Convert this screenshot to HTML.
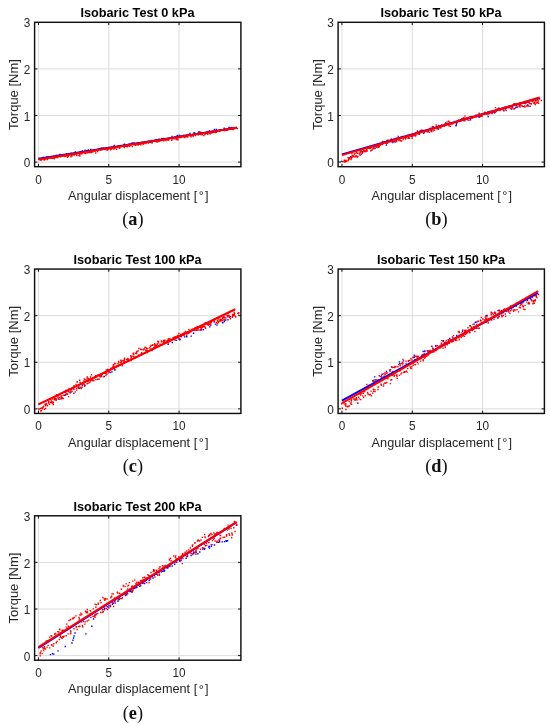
<!DOCTYPE html>
<html lang="en">
<head>
<meta charset="utf-8">
<title>Isobaric tests</title>
<style>
html,body{margin:0;padding:0;background:#fff}
svg{display:block}
text{font-family:"Liberation Sans",sans-serif;fill:#262626}
.t{font-size:12.7px;font-weight:700;text-anchor:middle;fill:#000}
.k{font-size:11.8px}
.m{text-anchor:middle}
.e{text-anchor:end}
.l{font-size:12.7px;text-anchor:middle}
.yl{font-size:13px}
.c{font-family:"Liberation Serif","DejaVu Serif",serif;font-size:18.3px;text-anchor:middle;fill:#111}
.b{font-weight:700}
</style>
</head>
<body>
<svg width="550" height="726" viewBox="0 0 550 726">
<rect width="550" height="726" fill="#fff"/>
<g>
<path d="M38.45 22.3V166.7M108.75 22.3V166.7M179.05 22.3V166.7M34.6 162.1H240.9M34.6 115.5H240.9M34.6 68.9H240.9" stroke="#dcdcdc" stroke-width="1" fill="none"/>
<path d="M42.56 157.55h1.4M45.92 157.29h1.4M46.62 157.42h1.4M49.2 156.78h1.4M55.5 155.47h1.4M58.73 155.23h1.4M65.91 153.69h1.4M61.72 154.68h1.4M74.65 152.01h1.4M68.04 153.62h1.4M81.62 152.4h1.4M81.69 150.97h1.4M87.61 149.92h1.4M84.29 150.13h1.4M89.96 149.37h1.4M91 150.66h1.4M94.98 150.08h1.4M100.45 148.3h1.4M101.05 148.35h1.4M113.49 145.55h1.4M107.27 148.05h1.4M110.81 147.37h1.4M123.55 144.42h1.4M123.83 144.19h1.4M128.29 144.13h1.4M131.36 143.07h1.4M133.15 143.5h1.4M136.87 143.26h1.4M135.7 143.5h1.4M141.7 142.52h1.4M151.33 140.44h1.4M148.22 141.5h1.4M155.16 139.72h1.4M158.25 139.11h1.4M157.95 139.91h1.4M160.95 138.78h1.4M171.35 136.43h1.4M176.54 135.76h1.4M177.08 135.54h1.4M179.12 135.57h1.4M189.27 133.56h1.4M193.36 132.7h1.4M193.92 133.23h1.4M200.36 132.82h1.4M198.32 131.81h1.4M198.16 132.99h1.4M208.88 131.07h1.4M207.45 131.51h1.4M215.67 129.54h1.4M213.74 129.34h1.4M223.51 128.23h1.4M228.28 127.47h1.4M223.71 128.76h1.4M228.56 127.43h1.4M228.9 127.74h1.4" stroke="#0000ff" stroke-width="1.4" fill="none"/>
<path d="M38.4 158.95h1.4M38.57 158.56h1.4M40.7 159.08h1.4M41.48 158.84h1.4M41.05 159.29h1.4M42.06 158.88h1.4M43.84 158.48h1.4M44.14 158.87h1.4M46.11 157.51h1.4M46.34 158.34h1.4M48.79 156.6h1.4M47.77 157.32h1.4M48.23 157.34h1.4M50.93 156.97h1.4M50.05 158.36h1.4M51.43 158.08h1.4M52.78 157.16h1.4M52.7 157.12h1.4M54.86 157.38h1.4M55.46 156.65h1.4M55.96 157.04h1.4M57.49 155.39h1.4M57.1 156.99h1.4M59.7 156.59h1.4M60.16 156.6h1.4M59.33 154.46h1.4M61.02 155.45h1.4M62.08 156h1.4M61.7 156.41h1.4M64.03 156.57h1.4M65.72 155.83h1.4M65.81 154.33h1.4M66.63 156.04h1.4M68.49 154.6h1.4M68.06 154.86h1.4M69.54 154.75h1.4M70.25 153.21h1.4M70.11 154.18h1.4M71.25 154.25h1.4M72.32 154.2h1.4M72.37 153.92h1.4M74.89 153.47h1.4M73.99 153.75h1.4M76.89 152.65h1.4M75.57 154.19h1.4M78.64 152.95h1.4M79.33 152.56h1.4M79.07 153.3h1.4M79.78 151.68h1.4M80.07 153.66h1.4M81 152.83h1.4M82.71 151.95h1.4M83.85 152.11h1.4M84.25 152.07h1.4M84.97 153.55h1.4M86.71 152.81h1.4M87.09 152.71h1.4M86.68 152.7h1.4M89.87 151.23h1.4M90.45 152.51h1.4M90.19 151.79h1.4M91.72 150.91h1.4M91 150.64h1.4M92.14 150.59h1.4M93.49 150.58h1.4M93.83 150.59h1.4M94.55 150.59h1.4M97.54 149.92h1.4M97.68 149.66h1.4M97.81 149.48h1.4M98.72 148.76h1.4M101.31 148.23h1.4M100.72 149.49h1.4M100.58 149.5h1.4M102.1 149.39h1.4M102.46 147.99h1.4M102.94 148.05h1.4M104.14 148.93h1.4M106.09 147.82h1.4M108.15 147.96h1.4M108.69 148.31h1.4M108.18 148.82h1.4M108.5 148.27h1.4M111.04 148.68h1.4M110.66 147.91h1.4M113.33 146.26h1.4M113.82 146.66h1.4M114.37 148.3h1.4M113.82 148.28h1.4M114.14 147.64h1.4M114.99 147.38h1.4M117.68 146.3h1.4M119.27 147.91h1.4M120.22 146.2h1.4M120.99 146.52h1.4M119.84 146.14h1.4M120.62 145.97h1.4M123.42 144.86h1.4M124.11 146.47h1.4M124.86 145.68h1.4M123.75 146.61h1.4M126.53 146.81h1.4M127.3 146.02h1.4M128.27 145.21h1.4M127.87 144.61h1.4M128.91 146.56h1.4M129.78 144.2h1.4M130.01 145h1.4M130.75 143.87h1.4M133.48 142.84h1.4M132.52 143.17h1.4M134.79 145.4h1.4M134.8 144.71h1.4M134.74 144.32h1.4M138.23 144.03h1.4M138.99 144.16h1.4M138.47 142.76h1.4M138.72 144.14h1.4M139.69 143.56h1.4M141.47 142.55h1.4M141.43 143.17h1.4M144.08 142.41h1.4M143.41 143.48h1.4M145.79 142.23h1.4M145.32 141.63h1.4M146.48 142.37h1.4M147.32 141.34h1.4M147.24 141.77h1.4M147.61 141.78h1.4M149.76 141.97h1.4M151.32 142.02h1.4M151.61 141.69h1.4M152.57 141.19h1.4M153.44 141.35h1.4M153.44 141.3h1.4M155.02 139.7h1.4M156.03 140.25h1.4M156.56 141.93h1.4M157.89 141.47h1.4M158.97 140.46h1.4M159.17 140.94h1.4M161.37 140.12h1.4M161.57 138.66h1.4M161.22 140.64h1.4M162.9 138.51h1.4M162.6 139.76h1.4M163.42 139.72h1.4M164.6 139.21h1.4M165 139.74h1.4M168.13 139.84h1.4M166.95 139.36h1.4M167.78 139.82h1.4M170.67 138.07h1.4M171.72 138.14h1.4M171.06 140.25h1.4M173.11 138.22h1.4M172.13 138.85h1.4M173.48 137.67h1.4M173.94 138.15h1.4M174.32 136.79h1.4M176.65 137.2h1.4M176.9 137.18h1.4M178.56 137.22h1.4M180.42 136.77h1.4M180.73 136.35h1.4M180.16 136.72h1.4M180.39 136.59h1.4M181.5 137.02h1.4M183.17 135.31h1.4M183.58 136.61h1.4M184.14 135.43h1.4M186.51 135.97h1.4M185.69 134.94h1.4M187.48 134.97h1.4M187.36 134.54h1.4M190.23 135.22h1.4M189.12 135.16h1.4M192.12 134.97h1.4M191.85 135.35h1.4M194.02 133.9h1.4M193.06 133.94h1.4M193.84 133.75h1.4M194.35 134.14h1.4M195.46 134.01h1.4M196.62 134.41h1.4M197.42 132.96h1.4M198.86 133.2h1.4M198.4 133.11h1.4M199.9 132.29h1.4M201.58 132.86h1.4M201.45 134.76h1.4M202.08 133.32h1.4M204.9 133.5h1.4M205.8 132.47h1.4M205.45 133.66h1.4M207.93 132.56h1.4M207.03 131.96h1.4M208.7 132.95h1.4M208.92 132.44h1.4M209.03 131.99h1.4M209.72 131.98h1.4M210.84 132.32h1.4M211.48 131.08h1.4M213.95 132.3h1.4M213.74 131.55h1.4M215.09 130.61h1.4M215.12 131.48h1.4M218.2 130.53h1.4M219.09 130.94h1.4M219.93 130.6h1.4M218.98 130.58h1.4M220.04 130.32h1.4M221.16 130.59h1.4M222.1 130.11h1.4M221.58 130.13h1.4M223.53 129.48h1.4M223.4 129.14h1.4M224.79 129.31h1.4M226.62 130.31h1.4M227.68 129.56h1.4M228.7 128.56h1.4M228.49 129.33h1.4M231.16 127.98h1.4M231.08 127.53h1.4M230.29 127.69h1.4M232.76 129.26h1.4M233.91 128.19h1.4M234.19 128.41h1.4M235 127.38h1.4M236.75 128.55h1.4M39.11 159.18h1.4M40.25 160.24h1.4M39.84 159.62h1.4M41.04 159.54h1.4M41.2 159.17h1.4M43.46 159.92h1.4M44.31 159.65h1.4M43.46 160.13h1.4M46.47 159.04h1.4M46.6 159.66h1.4M47.79 157.82h1.4M47.53 158.01h1.4M47.9 158.55h1.4M49.1 157.31h1.4M51.4 157h1.4M51.28 157.93h1.4M52.39 158.33h1.4M53.61 158.87h1.4M54.53 157.52h1.4M54.32 157.41h1.4M56.49 157.5h1.4M55.36 156.67h1.4M56.34 157.21h1.4M58.9 155.86h1.4M59.7 156.71h1.4M59.98 155.91h1.4M60.83 155.33h1.4M60.95 155.28h1.4M63.91 155.66h1.4M63.35 156.13h1.4M65.18 155.16h1.4M64.53 155.96h1.4M65.22 155.45h1.4M67.08 155.65h1.4M66.73 157.32h1.4M67.56 156.2h1.4M70.27 156.68h1.4M70.8 155.49h1.4M70.37 154.58h1.4M70.66 155.39h1.4M71.45 155.75h1.4M73.1 154.83h1.4M73.51 154.97h1.4M76.26 153.77h1.4M74.83 154.29h1.4M76 155.48h1.4M79.04 154.39h1.4M78.16 155.45h1.4M79.23 156.04h1.4M80.66 152.51h1.4M80.89 153.68h1.4M80.89 153.26h1.4M81.89 152.95h1.4M85 153.16h1.4M83.98 153.11h1.4M84.67 152.06h1.4M86.01 151.06h1.4M88.05 152.27h1.4M88.41 150.83h1.4M89.04 152.6h1.4M90.35 150.97h1.4M90.46 151.31h1.4M92.13 151.81h1.4M91.07 152.27h1.4M94.3 150.84h1.4M93.56 150.72h1.4M94.29 151.22h1.4M95.03 152.97h1.4M96.96 151.55h1.4M97.09 150.16h1.4M97.33 150.36h1.4M100.18 149.8h1.4M99.92 149.94h1.4M102.12 148.43h1.4M101.48 149.41h1.4M101.36 149.59h1.4M102.89 149.3h1.4M103.51 149.34h1.4M105.2 148.52h1.4M105.62 149.9h1.4M106.47 150.04h1.4M107.12 149.46h1.4M107.21 149.52h1.4M108.24 147.33h1.4M110.11 149.19h1.4M110.18 149.77h1.4M111.17 148.77h1.4M112.5 147.67h1.4M114.72 146.97h1.4M113.04 149.08h1.4M113.92 148.64h1.4M115.96 149.26h1.4M117.12 147.24h1.4M118.89 147.17h1.4M119.46 146.02h1.4M118.74 148.41h1.4M119.21 147.01h1.4M121.62 146.08h1.4M123.17 146.54h1.4M123.54 147.45h1.4M123.55 146.91h1.4M125.28 146.37h1.4M124.64 145.49h1.4M125.68 146.4h1.4M126.05 146.15h1.4M128.44 144.74h1.4M127.7 144.83h1.4M129.82 144.86h1.4M130.14 145.11h1.4M129.97 144.46h1.4M131.61 146.58h1.4M133.38 144.82h1.4M134.88 145.11h1.4M134 144.82h1.4M136.78 144.5h1.4M135.09 145.2h1.4M137.23 144.73h1.4M137.42 144.97h1.4M139.38 143.66h1.4M138.51 144.2h1.4M140.18 144.71h1.4M140.65 143.44h1.4M143.12 143.28h1.4M142.37 144.22h1.4M145.29 143.61h1.4M144.13 142.14h1.4M144.95 142.71h1.4M147.78 143.03h1.4M147.39 142.54h1.4M148.03 142.03h1.4M149.55 141.77h1.4M149.66 142.23h1.4M150.02 141.8h1.4M150.43 142.07h1.4M151.3 143.09h1.4M154.38 140.84h1.4M154.82 139.67h1.4M154.57 141.02h1.4M155.03 140.22h1.4M155.46 141.44h1.4M158.03 141.38h1.4M157.97 140.55h1.4M158.38 140.18h1.4M159.72 140.42h1.4M162.21 138.9h1.4M161.03 138.83h1.4M162.28 139.24h1.4M163.33 140.9h1.4M163.14 140.9h1.4M166.35 139.62h1.4M165.23 140.67h1.4M165.63 138.79h1.4M167.51 138.68h1.4M167.36 140.26h1.4M168.19 138.04h1.4M169.64 138.11h1.4M171.82 137.93h1.4M171.38 138.9h1.4M174.08 138.72h1.4M174.28 138.71h1.4M174.04 138.41h1.4M176.08 137.94h1.4M177.36 138.83h1.4M175.79 139.49h1.4M177.21 139.83h1.4M180.01 137.58h1.4M179.32 137.51h1.4M180.46 136.56h1.4M182.48 136.27h1.4M182.82 135.61h1.4M183.89 136.26h1.4M183.4 137.6h1.4M184.22 137.63h1.4M184.42 135.97h1.4M185.59 136.27h1.4M186.07 136.83h1.4M186.84 136.93h1.4M190.25 136.07h1.4M190.84 135.17h1.4M189.52 135.75h1.4M190.4 136.73h1.4M192.2 135.64h1.4M192.47 136.23h1.4M194.51 134.77h1.4M195.56 134.22h1.4M194.71 135.65h1.4M197.51 134.95h1.4M197.09 133.87h1.4M198.92 133.97h1.4M198.44 133.83h1.4M199.03 133.49h1.4M200.35 134.48h1.4M201.39 133.22h1.4M201.79 133.72h1.4M204.2 134.63h1.4M203.13 135.64h1.4M204.99 133.3h1.4M207.03 134.19h1.4M205.51 133.65h1.4M206.76 132.84h1.4M209.74 133.89h1.4M208.95 133.82h1.4M211.14 133.14h1.4M211.75 132.3h1.4M213.05 131.35h1.4M213.02 131.33h1.4M212.77 132.18h1.4M213.58 131.72h1.4M214.57 132.56h1.4M215.28 132.47h1.4M215.61 132.32h1.4M216.93 130.71h1.4M218.12 130.73h1.4M219.61 129.73h1.4M219.14 130.23h1.4M221.31 130.13h1.4M222.4 130.08h1.4M223.4 130.07h1.4M223.47 130.44h1.4M225.79 129.47h1.4M224.9 130.62h1.4M226.03 130.36h1.4M228.09 129.11h1.4M227.13 129.69h1.4M229.42 129.4h1.4M230.74 129.16h1.4M230.29 129h1.4M232.38 129.53h1.4M232.09 129.1h1.4M233.18 128.77h1.4" stroke="#ff0000" stroke-width="1.4" fill="none"/>
<path d="M38.45 158.7L236.98 127.52" stroke="#0000ff" stroke-width="1.8" fill="none"/>
<path d="M38.45 159.54L236.98 127.62" stroke="#ff0000" stroke-width="2" fill="none"/>
<path d="M38.45 166.7v-2.8M38.45 22.3v2.8M108.75 166.7v-2.8M108.75 22.3v2.8M179.05 166.7v-2.8M179.05 22.3v2.8M34.6 162.1h2.8M240.9 162.1h-2.8M34.6 115.5h2.8M240.9 115.5h-2.8M34.6 68.9h2.8M240.9 68.9h-2.8" stroke="#111" stroke-width="1" fill="none"/>
<rect x="34.6" y="22.3" width="206.3" height="144.4" fill="none" stroke="#101010" stroke-width="1.45"/>
<text x="137.45" y="17.2" class="t">Isobaric Test 0 kPa</text>
<text transform="translate(38.45 183.6) scale(1 1.15)" class="k m">0</text>
<text transform="translate(108.75 183.6) scale(1 1.15)" class="k m">5</text>
<text transform="translate(179.05 183.6) scale(1 1.15)" class="k m">10</text>
<text transform="translate(30.4 167.2) scale(1 1.15)" class="k e">0</text>
<text transform="translate(30.4 120.6) scale(1 1.15)" class="k e">1</text>
<text transform="translate(30.4 74) scale(1 1.15)" class="k e">2</text>
<text transform="translate(30.4 27.4) scale(1 1.15)" class="k e">3</text>
<text x="138.35" y="199.9" class="l">Angular displacement [<tspan dx="1.6" dy="0.2">°</tspan><tspan dx="1.2" dy="-0.2">]</tspan></text>
<text transform="translate(18.4 94.5) rotate(-90)" class="l yl">Torque [Nm]</text>
<text x="132.9" y="225" class="c">(<tspan class="b">a</tspan>)</text>
</g>
<g>
<path d="M341.95 22.3V166.7M412.25 22.3V166.7M482.55 22.3V166.7M338.1 162.1H544.4M338.1 115.5H544.4M338.1 68.9H544.4" stroke="#dcdcdc" stroke-width="1" fill="none"/>
<path d="M340.62 161.35h1.4M349.87 156.73h1.4M361.79 151.67h1.4M355.56 156.18h1.4M360.68 154.13h1.4M375.8 146.95h1.4M374.36 148.28h1.4M385.72 144.97h1.4M392.14 142.54h1.4M394.44 141.94h1.4M392.43 141.62h1.4M398.85 138.47h1.4M411.1 136.4h1.4M414.44 135.43h1.4M414.67 135.79h1.4M426.35 131.62h1.4M422.89 133.34h1.4M431.01 131.61h1.4M427.11 131.33h1.4M437.61 128.94h1.4M437.9 128.85h1.4M455.64 123.32h1.4M455.27 125.78h1.4M462.85 120.67h1.4M455.68 124.68h1.4M469.95 119.89h1.4M469.09 118.5h1.4M478.11 115.7h1.4M478.44 117.25h1.4M487.47 116.48h1.4M488.71 113.67h1.4M493.84 112.73h1.4M503.17 110.77h1.4M513.64 108.89h1.4M510.89 108.94h1.4M516.79 107.17h1.4M515.39 107.26h1.4M522.76 106.59h1.4M526.83 104.9h1.4M529.27 106.24h1.4" stroke="#0000ff" stroke-width="1.4" fill="none"/>
<path d="M343.59 160.36h1.4M343.75 160.21h1.4M344.91 160.44h1.4M343.92 162.17h1.4M345.46 160.57h1.4M347.75 160.03h1.4M348.64 158.93h1.4M347.35 157.67h1.4M349.02 157.69h1.4M351 157.02h1.4M351.26 153.7h1.4M351.52 155.67h1.4M351.88 157.16h1.4M354.31 153.38h1.4M353.82 154.27h1.4M355.76 152.56h1.4M356.69 153.32h1.4M356.58 153.31h1.4M357 153.32h1.4M359.15 153.24h1.4M360.79 151.02h1.4M359.54 151.69h1.4M360.11 150.14h1.4M360.92 151.09h1.4M362.76 149.81h1.4M363.26 151.06h1.4M364.07 150.62h1.4M366.1 149.66h1.4M367.83 148.33h1.4M366.78 148.4h1.4M368.74 147.45h1.4M370.25 146.97h1.4M369.43 148.51h1.4M369.6 148.54h1.4M371.4 148.09h1.4M373.09 148.68h1.4M374.19 145.56h1.4M373.72 145.63h1.4M375.37 145.38h1.4M375.88 145.08h1.4M377.78 144.06h1.4M376.52 146.99h1.4M377.75 145.7h1.4M378.77 145.3h1.4M380.86 144.4h1.4M382.21 142.76h1.4M381.65 142.29h1.4M381.82 141.49h1.4M384.53 142.82h1.4M383.43 141.74h1.4M385.57 142.92h1.4M387.2 142.15h1.4M386.3 141.52h1.4M387.52 140.21h1.4M389.82 139.85h1.4M390.53 139.05h1.4M390.21 141.2h1.4M391.87 141.45h1.4M392.66 139.1h1.4M392.81 140.82h1.4M393.54 141.41h1.4M396.24 138.09h1.4M395.32 138.36h1.4M397.59 136.36h1.4M397.31 138.17h1.4M399.7 137.83h1.4M400.64 136.67h1.4M400.74 137.57h1.4M402.57 138.23h1.4M402.03 136.44h1.4M403.97 137.62h1.4M403.67 137h1.4M404.18 137.78h1.4M404.78 136.88h1.4M407.58 136.02h1.4M406.32 135.52h1.4M409.36 134.99h1.4M408.61 135.15h1.4M408.63 135.1h1.4M411.3 135.67h1.4M412.29 135.76h1.4M411.3 135.84h1.4M414.25 134.47h1.4M415.12 133.28h1.4M416.12 133.22h1.4M417.11 132.27h1.4M416.01 133.11h1.4M416.62 130.97h1.4M419.42 130.95h1.4M419.8 130.84h1.4M419.7 132.77h1.4M420.05 130.5h1.4M421.2 129.95h1.4M422.39 130.64h1.4M423.08 130.4h1.4M424.02 130.36h1.4M424.99 130.81h1.4M427.63 131.24h1.4M427.54 129.67h1.4M426.78 130.35h1.4M429.7 128.19h1.4M429.39 128.84h1.4M429.89 129.68h1.4M432.55 126.46h1.4M431.5 126.68h1.4M431.89 127.05h1.4M435.46 125.07h1.4M433.63 128.09h1.4M436.69 126.65h1.4M435.86 127.71h1.4M438.52 126.24h1.4M437.8 125.52h1.4M438.54 126.13h1.4M440.75 125.92h1.4M441.44 125.34h1.4M440.77 125.07h1.4M443.59 126.03h1.4M444.02 125.48h1.4M444.24 123.89h1.4M446.47 121.9h1.4M444.94 122.7h1.4M446.31 123.66h1.4M447.99 121.22h1.4M448.52 122.17h1.4M449.61 123.16h1.4M450.67 122.66h1.4M451.86 123.99h1.4M451.9 123h1.4M454.13 121.35h1.4M454.5 121.54h1.4M454.75 122.11h1.4M456.54 121.63h1.4M456.54 121.42h1.4M458.58 120.51h1.4M457.83 120.03h1.4M459.81 119.64h1.4M459.16 120.66h1.4M460.27 120.63h1.4M460.9 118.9h1.4M462.23 118.21h1.4M464.2 116.08h1.4M463.33 117.99h1.4M464.98 118.5h1.4M467.51 117.48h1.4M466.85 119.58h1.4M467.06 118.76h1.4M467.95 118.38h1.4M469.32 116.62h1.4M471.3 116.5h1.4M471.9 118.06h1.4M472.13 117.02h1.4M472.1 117.59h1.4M474.63 116.83h1.4M475.95 117.01h1.4M476.38 115.3h1.4M476.34 115.26h1.4M478.47 113.29h1.4M479.05 114.96h1.4M479.65 116.5h1.4M480.41 115.69h1.4M481.24 114.24h1.4M480.63 115.87h1.4M483.2 113.16h1.4M483.84 113.33h1.4M484.22 112.26h1.4M485.55 113.95h1.4M487.27 111.93h1.4M486.06 113.65h1.4M487.5 114.05h1.4M488.65 112.24h1.4M489.66 111.9h1.4M489.47 111.43h1.4M491.32 113.56h1.4M491.03 113.1h1.4M493.6 111.7h1.4M493.9 112.08h1.4M494.79 112.19h1.4M495.35 110.04h1.4M496.97 109.97h1.4M497.03 109.78h1.4M499.54 109.61h1.4M498.66 108.73h1.4M499.65 108.65h1.4M499.44 109.93h1.4M502.21 108.08h1.4M502.11 108.41h1.4M504.06 107.19h1.4M505.47 108.02h1.4M505.96 107.63h1.4M505.69 107.39h1.4M507.62 106.41h1.4M508.57 107.29h1.4M508.75 107.62h1.4M508.69 105.99h1.4M510.7 106.15h1.4M512.06 105.3h1.4M511.48 106.81h1.4M513.04 104.37h1.4M513.37 103.78h1.4M515.61 104.49h1.4M514.82 103.96h1.4M516.17 104.35h1.4M517.85 104.09h1.4M517.5 104.24h1.4M518.91 103.15h1.4M519.64 104.58h1.4M520.32 104.99h1.4M522.75 103.3h1.4M523.34 103.36h1.4M524.42 102.79h1.4M525.08 103.21h1.4M525.4 102.6h1.4M527.15 102.23h1.4M527.19 102.23h1.4M526.64 101.9h1.4M527.75 101.85h1.4M528.39 102.82h1.4M531.34 101.41h1.4M532.17 101.77h1.4M532.25 101.02h1.4M533.91 102.22h1.4M534.48 100.69h1.4M535.08 101.12h1.4M535.5 100.66h1.4M537.34 101.19h1.4M537.3 100.43h1.4M537.01 99.51h1.4M538.86 98.55h1.4M538.76 99.07h1.4M540.59 100.44h1.4M343.37 161.58h1.4M341.89 161.67h1.4M344.26 161.98h1.4M345.39 160.35h1.4M345.57 161.32h1.4M347.9 158.43h1.4M347.87 158.61h1.4M347.07 160.84h1.4M350.39 159.51h1.4M349.6 157.81h1.4M350.87 158h1.4M352.85 155.58h1.4M352.96 156.36h1.4M353.03 156.26h1.4M354.26 157h1.4M355.25 156.04h1.4M355.86 156.39h1.4M356.68 157.24h1.4M357.17 156.18h1.4M359.49 155.21h1.4M358.82 153.93h1.4M360.32 152.06h1.4M361.95 152.64h1.4M361.55 153.29h1.4M363.1 151.56h1.4M364.08 151.55h1.4M365.18 151.48h1.4M366.47 151h1.4M365.73 151.17h1.4M365.78 150.19h1.4M368.28 147.5h1.4M369.27 148.21h1.4M369.99 150.85h1.4M370.86 150.2h1.4M371.66 149.84h1.4M372.74 147.96h1.4M372.99 146.42h1.4M374.67 146.32h1.4M373.54 147.03h1.4M376.41 145.11h1.4M376.16 147h1.4M378.25 145.59h1.4M377.56 147.25h1.4M378.53 146.74h1.4M379.74 145.06h1.4M381.17 144.3h1.4M381.82 144.44h1.4M381.23 143.31h1.4M383.55 142.17h1.4M385.34 143.04h1.4M384.74 143.31h1.4M386.15 140.45h1.4M386.69 143.33h1.4M387.37 141.7h1.4M387.68 141.55h1.4M388.36 142.11h1.4M390.67 141.79h1.4M389.99 141.63h1.4M392.88 141.3h1.4M391.72 140.05h1.4M392.88 140.75h1.4M395.07 140.49h1.4M396.04 140.15h1.4M396.73 139.25h1.4M395.86 141.55h1.4M398.2 140.48h1.4M399.88 140.72h1.4M398.88 138.54h1.4M399.08 139.77h1.4M399.94 140.58h1.4M400.97 140.99h1.4M402.45 139.37h1.4M404.81 138.94h1.4M404.64 137.58h1.4M405.73 137.38h1.4M406.22 137.85h1.4M408.05 137.63h1.4M407.72 138.2h1.4M408.72 138.22h1.4M409.48 136.4h1.4M411.43 138.21h1.4M411.69 136.5h1.4M413.65 134.99h1.4M413.77 134.66h1.4M414.35 135.59h1.4M416.22 133.78h1.4M415.25 135.66h1.4M416.43 133.72h1.4M417.98 134.16h1.4M418.61 132.14h1.4M418.59 134.22h1.4M418.68 133.7h1.4M421.13 131.6h1.4M422.61 131.59h1.4M423.51 131.82h1.4M424.3 130.62h1.4M423.69 132.43h1.4M426.12 130.53h1.4M427.14 131.91h1.4M426.45 130.03h1.4M428.53 129.36h1.4M427.75 130.2h1.4M428.7 132.39h1.4M430.57 130.65h1.4M430.33 130.93h1.4M431.31 129.7h1.4M432.73 130.83h1.4M432.57 128.9h1.4M433.82 130.25h1.4M435.62 126.91h1.4M436.31 128.9h1.4M437.04 128.54h1.4M437.12 128.28h1.4M437.94 127.93h1.4M439.84 127.97h1.4M440.25 127.66h1.4M440.13 127.15h1.4M443.58 126.3h1.4M443.44 125.71h1.4M444.72 124.78h1.4M444.36 124.37h1.4M445.69 124.72h1.4M447.83 124.51h1.4M448.35 125.78h1.4M447.55 124.97h1.4M449.81 126.33h1.4M450.64 123.37h1.4M451.63 122.74h1.4M450.35 123.93h1.4M451.65 123.42h1.4M452.09 123.06h1.4M454.33 121.98h1.4M456.25 122.88h1.4M457 121h1.4M456.45 121.44h1.4M456.55 121.27h1.4M458.62 121.59h1.4M459.68 119.89h1.4M459.85 121.32h1.4M460.86 119.61h1.4M463.2 117.8h1.4M461.95 119.31h1.4M463.16 119.81h1.4M465.51 117.97h1.4M464.03 120.73h1.4M466.9 119.79h1.4M468.3 120.39h1.4M466.61 118.71h1.4M469.88 116.95h1.4M470.02 118.42h1.4M471.09 116.82h1.4M470.16 118.37h1.4M471.07 117.41h1.4M472.9 117.04h1.4M472.83 116.81h1.4M475.14 115.16h1.4M474.67 116.49h1.4M475.09 116.17h1.4M478.4 116.11h1.4M479.07 115.42h1.4M478.78 116.14h1.4M478.67 114.26h1.4M480.98 115.68h1.4M481.35 116.25h1.4M482.27 113.61h1.4M483.54 113.78h1.4M482.83 114h1.4M485.48 114.32h1.4M486.76 113.89h1.4M485.96 114.4h1.4M486.83 113.44h1.4M489.24 113.18h1.4M489.14 112.49h1.4M489.52 112.32h1.4M492.17 112.23h1.4M490.51 111.42h1.4M491.79 112.81h1.4M493.37 112.07h1.4M493.47 111.05h1.4M494.76 107.67h1.4M497.15 110.04h1.4M495.74 111.4h1.4M496.49 108.93h1.4M499.17 110.59h1.4M498.08 107.98h1.4M501.09 109.58h1.4M499.75 109.67h1.4M502.87 110.06h1.4M502.64 109.84h1.4M504.79 108.97h1.4M503.53 108.11h1.4M504.5 108.7h1.4M505.4 110.46h1.4M505.93 108.12h1.4M507.92 107.6h1.4M508.17 107.86h1.4M510.21 106.57h1.4M511.35 108.01h1.4M510.16 108.43h1.4M512.84 108.92h1.4M511.84 107.19h1.4M514.76 107.94h1.4M515.76 105.45h1.4M515.6 104.39h1.4M516.41 105.91h1.4M518.34 106.2h1.4M519.08 105.52h1.4M518.67 105.61h1.4M520.14 104.99h1.4M519.38 106.95h1.4M521.63 106h1.4M521.41 106.19h1.4M524.29 107.01h1.4M523.66 105.95h1.4M525.69 105.94h1.4M524.66 103.59h1.4M526.7 106.01h1.4M527.6 105.98h1.4M527.11 105.14h1.4M530.55 103.86h1.4M529.04 103.51h1.4M530.3 103.6h1.4M530.73 103.93h1.4M533.23 103.22h1.4M533.81 102.94h1.4M534.6 104.44h1.4M534.16 103.64h1.4M537.11 102.65h1.4M535.92 103.03h1.4M537.79 103.19h1.4" stroke="#ff0000" stroke-width="1.4" fill="none"/>
<path d="M341.95 154.27L539.63 97.79" stroke="#0000ff" stroke-width="1.8" fill="none"/>
<path d="M341.95 155.11L539.63 97.56" stroke="#ff0000" stroke-width="2" fill="none"/>
<path d="M341.95 166.7v-2.8M341.95 22.3v2.8M412.25 166.7v-2.8M412.25 22.3v2.8M482.55 166.7v-2.8M482.55 22.3v2.8M338.1 162.1h2.8M544.4 162.1h-2.8M338.1 115.5h2.8M544.4 115.5h-2.8M338.1 68.9h2.8M544.4 68.9h-2.8" stroke="#111" stroke-width="1" fill="none"/>
<rect x="338.1" y="22.3" width="206.3" height="144.4" fill="none" stroke="#101010" stroke-width="1.45"/>
<text x="440.95" y="17.2" class="t">Isobaric Test 50 kPa</text>
<text transform="translate(341.95 183.6) scale(1 1.15)" class="k m">0</text>
<text transform="translate(412.25 183.6) scale(1 1.15)" class="k m">5</text>
<text transform="translate(482.55 183.6) scale(1 1.15)" class="k m">10</text>
<text transform="translate(333.9 167.2) scale(1 1.15)" class="k e">0</text>
<text transform="translate(333.9 120.6) scale(1 1.15)" class="k e">1</text>
<text transform="translate(333.9 74) scale(1 1.15)" class="k e">2</text>
<text transform="translate(333.9 27.4) scale(1 1.15)" class="k e">3</text>
<text x="441.85" y="199.9" class="l">Angular displacement [<tspan dx="1.6" dy="0.2">°</tspan><tspan dx="1.2" dy="-0.2">]</tspan></text>
<text transform="translate(321.9 94.5) rotate(-90)" class="l yl">Torque [Nm]</text>
<text x="436.4" y="225" class="c">(<tspan class="b">b</tspan>)</text>
</g>
<g>
<path d="M38.45 269.05V413.45M108.75 269.05V413.45M179.05 269.05V413.45M34.6 408.85H240.9M34.6 362.25H240.9M34.6 315.65H240.9" stroke="#dcdcdc" stroke-width="1" fill="none"/>
<path d="M50.95 402.16h1.4M45.88 404.33h1.4M58.29 399.21h1.4M63.86 395.38h1.4M70.1 391.09h1.4M64.69 394.73h1.4M78.6 388.34h1.4M69.43 392.72h1.4M84.04 386.05h1.4M79.46 387.57h1.4M83.75 384.7h1.4M91.65 380.5h1.4M103.67 376.36h1.4M109.43 372.59h1.4M111.19 372h1.4M114.14 369.69h1.4M167.63 344.25h1.4M171.62 342.43h1.4M178.41 339.3h1.4M175.6 340.41h1.4M179.36 339.25h1.4M179.06 339.73h1.4M185.77 335.93h1.4M184.02 336.9h1.4M186.17 336.92h1.4M190.49 336.12h1.4M192.89 333.27h1.4M194.27 330.53h1.4M200.73 329.75h1.4M199.59 329.9h1.4M200.44 329.19h1.4M202.67 329.8h1.4M209.1 326.87h1.4M210.02 324.97h1.4M214.72 324.09h1.4M216.3 325.13h1.4M222.15 322.43h1.4M223.74 321.48h1.4M221.85 322.81h1.4M225.06 319.98h1.4M227.24 319.79h1.4M229.86 316.79h1.4" stroke="#0000ff" stroke-width="1.4" fill="none"/>
<path d="M39.23 408.91h1.4M40.02 408.4h1.4M41.33 407.78h1.4M41.52 408.68h1.4M42.45 407.22h1.4M42.89 406.16h1.4M44.39 404.2h1.4M44.92 404.67h1.4M45.74 404.3h1.4M48.13 402.64h1.4M47.96 401.21h1.4M48.26 401.19h1.4M50.59 400.94h1.4M49.71 399.35h1.4M51.44 399.05h1.4M51.25 401.44h1.4M54.11 398.32h1.4M53.2 398.93h1.4M55.93 394.6h1.4M55.15 398.19h1.4M57.57 395.86h1.4M58.3 394.82h1.4M58.92 397.57h1.4M60.47 395.59h1.4M60.62 397.29h1.4M62.42 395.21h1.4M61.42 397.57h1.4M64.49 391.26h1.4M64.57 392.2h1.4M65.22 390.5h1.4M65.89 391.74h1.4M67.86 389.16h1.4M67.6 391.5h1.4M68.72 391.95h1.4M69.16 389.46h1.4M70.35 389.77h1.4M71.06 388.8h1.4M73.32 385.78h1.4M73.23 387.57h1.4M73.38 386.92h1.4M75.43 384.42h1.4M76.35 381.75h1.4M76.51 382.06h1.4M78.93 380.25h1.4M77.98 385.3h1.4M79.53 382.41h1.4M79.34 382.36h1.4M81.75 383.85h1.4M83.26 380.99h1.4M83.49 378.86h1.4M84.33 379.53h1.4M85.73 380.09h1.4M86.37 378.43h1.4M86.57 376.96h1.4M87.99 378.41h1.4M87.66 379.36h1.4M89.91 376.93h1.4M90.85 374.74h1.4M91.5 378.67h1.4M92.28 380.19h1.4M92.9 380.41h1.4M94.35 376.75h1.4M94.64 376.88h1.4M97.47 374.58h1.4M95.86 376.83h1.4M99.04 375.7h1.4M100.23 376.6h1.4M100.84 375.19h1.4M100.01 374.17h1.4M101.56 374.33h1.4M101.51 373.78h1.4M103.72 373.11h1.4M105.68 371.8h1.4M105.55 369.91h1.4M106.9 369.46h1.4M106.41 370.26h1.4M107.31 369.86h1.4M109.78 369.81h1.4M108.81 370.18h1.4M110.59 368.93h1.4M111.93 367.43h1.4M112.51 364.92h1.4M113.06 365.7h1.4M113.13 364.74h1.4M114 363.35h1.4M114.88 363.61h1.4M117.89 361.47h1.4M118.19 362.39h1.4M117.35 363.72h1.4M120.46 362.62h1.4M120.16 360.27h1.4M120.53 361.29h1.4M123.57 359.22h1.4M123.54 360.54h1.4M123.88 358.74h1.4M123.83 358.2h1.4M127.36 358.39h1.4M126.76 358.92h1.4M126.52 359.07h1.4M130 355.75h1.4M130.82 356.49h1.4M131.48 356.11h1.4M132.81 353.17h1.4M132.37 353.6h1.4M132.97 354.49h1.4M134.83 353.24h1.4M136.19 351.55h1.4M135.96 352.26h1.4M135.97 353.57h1.4M137.41 351.04h1.4M138.12 348.47h1.4M139.82 349.13h1.4M140.22 349.45h1.4M141.17 349.61h1.4M143.31 349.19h1.4M142.84 349.74h1.4M143.55 348.73h1.4M144.32 347.23h1.4M145.53 347.85h1.4M145.9 348.54h1.4M147.14 348.61h1.4M149.69 346.21h1.4M150.6 345.46h1.4M151.42 345.38h1.4M152.08 344.81h1.4M151.99 344.93h1.4M154.56 344.94h1.4M154.17 344.95h1.4M154 343.81h1.4M156.58 343.98h1.4M157.14 341.18h1.4M157.41 343.08h1.4M157.86 341.71h1.4M160.69 340.88h1.4M160.64 341.01h1.4M160.75 341.88h1.4M162.79 342.67h1.4M163.43 342.04h1.4M162.94 340.52h1.4M164.11 340.11h1.4M166.43 340.85h1.4M165.73 341.71h1.4M167.77 340.49h1.4M168.09 338.8h1.4M168.79 338.72h1.4M169.41 339.19h1.4M171.12 339.56h1.4M173.5 337.55h1.4M174.27 339.98h1.4M173.06 338.55h1.4M175.55 336.85h1.4M176.42 337.42h1.4M177.31 335.5h1.4M178.33 335.77h1.4M178.23 333.54h1.4M179.94 334.42h1.4M181.68 333.77h1.4M182.07 334.28h1.4M180.96 335.19h1.4M182.22 334.06h1.4M183.76 332.57h1.4M183.68 334.09h1.4M184.99 331.55h1.4M187.82 333.31h1.4M187.03 333.45h1.4M188.46 332.39h1.4M188.1 333.03h1.4M191.43 330.47h1.4M190.04 331.99h1.4M193.3 330.08h1.4M192.44 330.27h1.4M192.96 329.53h1.4M196.2 329.06h1.4M196.63 326.6h1.4M196.5 326.75h1.4M198.44 326.45h1.4M197.44 328.41h1.4M200.83 329.01h1.4M201 325.52h1.4M202.04 324.7h1.4M202.12 326.99h1.4M201.87 326.55h1.4M204.11 326.28h1.4M206.22 322.78h1.4M204.56 322.81h1.4M207.38 322.67h1.4M207.84 324.03h1.4M209.97 323.74h1.4M208.79 324.46h1.4M209.15 324.02h1.4M210.47 321.63h1.4M211.69 320.43h1.4M213.64 319.33h1.4M213.29 320.77h1.4M214.8 319.12h1.4M217.14 320.15h1.4M217.9 318.85h1.4M216.65 320.95h1.4M219.51 319.72h1.4M219.64 319.13h1.4M220.89 319.36h1.4M221.6 320.59h1.4M223.19 317.78h1.4M222.01 318.46h1.4M223.19 316.65h1.4M223.67 317.44h1.4M226.44 315.7h1.4M226.61 315.42h1.4M227.58 315.14h1.4M228.18 315.43h1.4M228.06 315.41h1.4M231.82 314.45h1.4M231.93 315.05h1.4M233.6 314.63h1.4M233.08 314.54h1.4M233.83 313.38h1.4M233.5 312.39h1.4M237.05 313.39h1.4M238.01 313.85h1.4M238.09 312.63h1.4M37.87 409.05h1.4M38.44 409.07h1.4M40.11 411h1.4M40.68 410.59h1.4M43.7 409.19h1.4M42.42 407.58h1.4M44.96 408.44h1.4M44.67 405.9h1.4M45.54 403.52h1.4M46.58 405.8h1.4M48.8 404.52h1.4M48 402.98h1.4M50 402.54h1.4M51.45 403.09h1.4M52.7 404.62h1.4M52.31 403.49h1.4M52.64 402.23h1.4M54.34 399.34h1.4M54.04 399.77h1.4M55.74 399.3h1.4M55.48 400.2h1.4M57.52 398.43h1.4M57.16 397.31h1.4M60.45 395.69h1.4M60.16 399.02h1.4M60.65 398.59h1.4M61.94 398.33h1.4M62.6 398.52h1.4M64.89 394.97h1.4M66 393.94h1.4M65.58 393.7h1.4M66.82 394.31h1.4M66.34 393.72h1.4M67.92 396.61h1.4M70.49 392.08h1.4M71.26 388.52h1.4M71.45 391.34h1.4M72.9 389.01h1.4M73.21 389.52h1.4M73.21 393.21h1.4M74.63 391.9h1.4M76.01 390.04h1.4M77.58 387.46h1.4M76.02 388.25h1.4M78.12 386.07h1.4M77.98 388.29h1.4M80.29 387.97h1.4M80.71 388.55h1.4M81.55 387.01h1.4M81.64 385.26h1.4M83.77 382.41h1.4M83.42 383.95h1.4M84.27 385.2h1.4M86.41 383.76h1.4M87.37 381.69h1.4M87.33 383.35h1.4M89.04 382.56h1.4M90.15 380.59h1.4M89.57 381.07h1.4M91.52 379.65h1.4M93.2 380.91h1.4M94.21 376.79h1.4M95.01 375.79h1.4M94.13 378.1h1.4M95.22 379.63h1.4M98.37 379.24h1.4M96.91 379.29h1.4M99.64 375.78h1.4M99.38 376h1.4M99.25 377.14h1.4M100.96 376.18h1.4M103.02 376.86h1.4M103.67 373.4h1.4M105.28 375.48h1.4M106.17 374.2h1.4M105.05 373.61h1.4M107.65 372.9h1.4M108.31 371.26h1.4M108.33 371.81h1.4M110.26 368.27h1.4M109.17 370.92h1.4M111.67 367.93h1.4M113.14 367.02h1.4M112.05 366.93h1.4M113.35 368.49h1.4M114.07 370.05h1.4M116.08 366.25h1.4M115.64 366.07h1.4M118.5 364.72h1.4M117.63 366.42h1.4M119.96 364.64h1.4M119.98 362.6h1.4M121.33 360.83h1.4M122.65 360.77h1.4M121.61 365.49h1.4M123.45 361.83h1.4M125.86 359.65h1.4M126.55 359.49h1.4M127.49 359.68h1.4M127.99 360.9h1.4M127.39 359.53h1.4M130.26 360.65h1.4M130.48 357.56h1.4M129.84 359.13h1.4M133.08 356.69h1.4M133.1 356.49h1.4M133.34 356.86h1.4M134.54 357.72h1.4M135.11 357.28h1.4M135.01 357.7h1.4M135.95 356.89h1.4M138.1 354.83h1.4M138.1 354.99h1.4M140.49 353.99h1.4M140.9 352.68h1.4M141.11 354.71h1.4M144 353.09h1.4M144.99 350.32h1.4M145.25 350.86h1.4M146.44 350.53h1.4M146.65 352.52h1.4M146.77 351.67h1.4M149.12 347.68h1.4M150.21 349.1h1.4M150.6 349.92h1.4M151.43 350.59h1.4M151.21 349.27h1.4M152.68 348.48h1.4M152.96 347.7h1.4M153.81 345.93h1.4M154.83 346.65h1.4M155.38 346.47h1.4M155.96 345.15h1.4M156.49 344.85h1.4M158.64 345.76h1.4M159.89 344.89h1.4M159.34 344.11h1.4M160.91 344.55h1.4M162.52 341.44h1.4M164.52 343.33h1.4M164.4 340.16h1.4M163.85 341.29h1.4M167.35 339.24h1.4M166.44 340.78h1.4M168.8 341.61h1.4M167.4 344.02h1.4M168.89 340.9h1.4M169.73 339.44h1.4M170.66 339.41h1.4M172.8 338.46h1.4M172.25 337.68h1.4M174.3 336.63h1.4M174.03 339.26h1.4M176.46 335.84h1.4M175.48 337.7h1.4M178.47 335.61h1.4M177.44 337.46h1.4M178.48 339.07h1.4M180.67 336.76h1.4M182.37 334.84h1.4M182.77 333.54h1.4M183.38 335.68h1.4M183.38 333.63h1.4M183.47 334.47h1.4M186 333.11h1.4M186.06 334.91h1.4M186.73 333.33h1.4M188.21 329.57h1.4M189.4 330.92h1.4M191.51 329.1h1.4M191.65 329.85h1.4M191.41 330.14h1.4M191.77 330.24h1.4M194.45 327.75h1.4M194.36 328.13h1.4M195.59 330.38h1.4M196.82 330.09h1.4M197.56 330.03h1.4M197.47 327.29h1.4M199.66 327.44h1.4M199.41 330.12h1.4M201.63 326.42h1.4M201.11 327.45h1.4M202.7 326.27h1.4M202.12 327.19h1.4M204.36 327.55h1.4M204.93 328.22h1.4M207.62 325.37h1.4M205.93 323.69h1.4M206.65 324.67h1.4M208.9 324.14h1.4M209.95 322.92h1.4M210.3 321.1h1.4M210.58 322.39h1.4M213.68 320.68h1.4M212.4 320.69h1.4M213.53 321.93h1.4M216.54 323.45h1.4M215.61 322.63h1.4M217.81 322.65h1.4M219 321.06h1.4M217.62 321.59h1.4M220.05 321.14h1.4M220.25 320.42h1.4M221.61 320.4h1.4M222.06 317.36h1.4M223.58 320.23h1.4M223.32 319.71h1.4M224.81 318.02h1.4M225.13 317.99h1.4M227.2 315.84h1.4M227.11 316.68h1.4M228.78 317.2h1.4M228.49 315.89h1.4M229.71 318.69h1.4M231.99 316.29h1.4M231.68 317.39h1.4M233.01 315.65h1.4M234.47 315.87h1.4M235.13 316.93h1.4" stroke="#ff0000" stroke-width="1.4" fill="none"/>
<path d="M38.45 404.47L234.59 309.59" stroke="#0000ff" stroke-width="1.2" fill="none"/>
<path d="M38.45 404.47L235.29 309.27" stroke="#ff0000" stroke-width="2" fill="none"/>
<path d="M38.45 413.45v-2.8M38.45 269.05v2.8M108.75 413.45v-2.8M108.75 269.05v2.8M179.05 413.45v-2.8M179.05 269.05v2.8M34.6 408.85h2.8M240.9 408.85h-2.8M34.6 362.25h2.8M240.9 362.25h-2.8M34.6 315.65h2.8M240.9 315.65h-2.8" stroke="#111" stroke-width="1" fill="none"/>
<rect x="34.6" y="269.05" width="206.3" height="144.4" fill="none" stroke="#101010" stroke-width="1.45"/>
<text x="137.45" y="263.95" class="t">Isobaric Test 100 kPa</text>
<text transform="translate(38.45 430.35) scale(1 1.15)" class="k m">0</text>
<text transform="translate(108.75 430.35) scale(1 1.15)" class="k m">5</text>
<text transform="translate(179.05 430.35) scale(1 1.15)" class="k m">10</text>
<text transform="translate(30.4 413.95) scale(1 1.15)" class="k e">0</text>
<text transform="translate(30.4 367.35) scale(1 1.15)" class="k e">1</text>
<text transform="translate(30.4 320.75) scale(1 1.15)" class="k e">2</text>
<text transform="translate(30.4 274.15) scale(1 1.15)" class="k e">3</text>
<text x="138.35" y="446.65" class="l">Angular displacement [<tspan dx="1.6" dy="0.2">°</tspan><tspan dx="1.2" dy="-0.2">]</tspan></text>
<text transform="translate(18.4 341.25) rotate(-90)" class="l yl">Torque [Nm]</text>
<text x="132.9" y="471.75" class="c">(<tspan class="b">c</tspan>)</text>
</g>
<g>
<path d="M341.95 269.05V413.45M412.25 269.05V413.45M482.55 269.05V413.45M338.1 408.85H544.4M338.1 362.25H544.4M338.1 315.65H544.4" stroke="#dcdcdc" stroke-width="1" fill="none"/>
<path d="M372.76 380.53h1.4M374 376.92h1.4M374.43 380h1.4M381.1 377.06h1.4M385.72 371.53h1.4M381.39 374.23h1.4M389.77 369.6h1.4M390.93 366.98h1.4M398.83 363.63h1.4M398.72 361.91h1.4M402.92 360.92h1.4M401.26 363.42h1.4M413.62 355.27h1.4M412.65 357.25h1.4M413.44 357.31h1.4M424.13 351.66h1.4M424.11 350.91h1.4M422.43 351.56h1.4M430.9 346.38h1.4M434.88 345.66h1.4M432.07 348.25h1.4M442.7 340.81h1.4M442.57 341.13h1.4M448.99 338.57h1.4M452.16 337.76h1.4M456.06 335.52h1.4M461.86 331.19h1.4M461.89 330.33h1.4M469.57 325.79h1.4M464.68 330.76h1.4M474.64 322.26h1.4M475.98 322.11h1.4M473.48 324.13h1.4M486.59 315.68h1.4M479.84 320.2h1.4M485.37 315.82h1.4M493.53 312.93h1.4M499.79 313.16h1.4M495.9 314.63h1.4M498.13 310.53h1.4M501.01 310.7h1.4M513.97 305.99h1.4M515.58 305.95h1.4M511.94 307.56h1.4M522.21 302.5h1.4M526.77 300.25h1.4M529.77 298.96h1.4M529.96 298.27h1.4" stroke="#0000ff" stroke-width="1.4" fill="none"/>
<path d="M340.89 403.73h1.4M343.77 403.84h1.4M344.76 405.23h1.4M345.01 404.99h1.4M345.17 403.9h1.4M348.45 401.55h1.4M346.93 406.68h1.4M349.95 403.17h1.4M350.47 399.5h1.4M350.72 400.4h1.4M353.06 399.02h1.4M354.38 400.18h1.4M355.81 397.65h1.4M354.4 400.03h1.4M355.84 399.3h1.4M357.88 397.2h1.4M358.55 393.9h1.4M359.73 394.26h1.4M360.3 391.22h1.4M360.27 393.47h1.4M363.42 391.05h1.4M363.03 391.06h1.4M364.02 391.58h1.4M364.2 387.73h1.4M366.16 384.52h1.4M367.13 388.78h1.4M367.21 387.71h1.4M367.99 385.53h1.4M370.45 385.4h1.4M372.02 380.75h1.4M370.53 385.31h1.4M372.58 381.36h1.4M372.75 384.49h1.4M373.83 382.05h1.4M375.46 379.72h1.4M377.85 380.06h1.4M376.58 380.08h1.4M378.53 375.82h1.4M379.69 376.67h1.4M380.76 375.49h1.4M380.71 378.67h1.4M383.36 376.28h1.4M382.96 373.84h1.4M384.36 374.47h1.4M384.23 372.84h1.4M385.79 373.27h1.4M386.71 372.83h1.4M389.39 371.3h1.4M388.87 370.04h1.4M391.72 367.54h1.4M392.79 367.36h1.4M391.7 371.68h1.4M393.99 367.62h1.4M394.2 366.48h1.4M395.17 366.82h1.4M397.25 366.75h1.4M398.03 364.64h1.4M399.52 365.78h1.4M399.78 364.02h1.4M401.85 362.17h1.4M402.16 359.48h1.4M402.08 363.41h1.4M402.11 364.85h1.4M405.26 363.68h1.4M405.42 361.09h1.4M407.68 360.69h1.4M407.69 361.21h1.4M408.27 363.58h1.4M409.1 360.31h1.4M410.27 358.47h1.4M411.31 359.99h1.4M412.36 357.92h1.4M414.06 359.81h1.4M413.98 356.24h1.4M415.45 356.32h1.4M417.11 356.23h1.4M416.36 357.6h1.4M416.9 356.56h1.4M417.92 356.83h1.4M420.99 355.43h1.4M421.75 354.81h1.4M422.83 354.55h1.4M423.75 353.62h1.4M423.88 358.19h1.4M426.12 356.3h1.4M427.27 351.88h1.4M427.14 350.76h1.4M426.51 350.68h1.4M428.31 350.89h1.4M429.45 350.57h1.4M431.2 346.55h1.4M432.04 348.78h1.4M432.38 348.6h1.4M435.13 346.34h1.4M434.19 350.51h1.4M435.01 346.31h1.4M436.53 345.72h1.4M437.8 347.72h1.4M438.47 345.85h1.4M440.83 343.25h1.4M441.04 340.6h1.4M440.44 344.32h1.4M442.55 341.51h1.4M444.02 342.57h1.4M445.73 340.44h1.4M445.13 342.26h1.4M447.06 343.56h1.4M447.61 339.64h1.4M449.93 339.64h1.4M448.33 342.19h1.4M449.29 339.19h1.4M452.83 335.63h1.4M451.67 336.84h1.4M454.99 338.57h1.4M454.64 338.15h1.4M456.18 336.67h1.4M455.7 337.34h1.4M458.66 332.53h1.4M457.66 331.68h1.4M458.31 331.46h1.4M461.97 330.11h1.4M461.26 332.86h1.4M463.8 332.35h1.4M464.09 331.13h1.4M465.1 330.15h1.4M464.03 330.43h1.4M465.61 331.2h1.4M467.7 330.16h1.4M467.33 327.79h1.4M470.7 328.34h1.4M469.29 325.81h1.4M472.32 324.36h1.4M470.89 326.95h1.4M472.97 326.71h1.4M474.47 326.24h1.4M474.03 328.16h1.4M476.08 324.44h1.4M477.84 321.18h1.4M477.07 321.32h1.4M480.58 317.51h1.4M480.32 320.93h1.4M480.56 323h1.4M482.19 319h1.4M484.54 317.13h1.4M485.32 317.02h1.4M485.46 318.64h1.4M485 318.94h1.4M486.4 315.41h1.4M487.25 318.33h1.4M490.43 313h1.4M491.55 313.04h1.4M490.57 312.29h1.4M490.63 314.75h1.4M492.5 314.33h1.4M494.78 312.35h1.4M493.98 312.25h1.4M494.62 313.62h1.4M497.15 310.66h1.4M498.86 310.21h1.4M499.23 311.6h1.4M499.96 311.34h1.4M499.63 311.96h1.4M502.13 311.78h1.4M502.41 312.74h1.4M502.8 309.72h1.4M503.8 308.88h1.4M506.9 309.1h1.4M507.98 309.38h1.4M506.51 309.29h1.4M509.97 306.25h1.4M509.87 306.07h1.4M509.54 308.27h1.4M511.84 306.62h1.4M512.73 306.93h1.4M513.39 305.36h1.4M513.75 304.84h1.4M516.83 303.29h1.4M516.65 303.95h1.4M519.03 303.36h1.4M518.58 303.02h1.4M520.2 304.56h1.4M519.73 303.43h1.4M520.83 303.46h1.4M521.08 304.05h1.4M522.88 300.77h1.4M525.75 298.23h1.4M524.67 299.16h1.4M526.79 298.78h1.4M526.1 302.13h1.4M527.66 303.35h1.4M528 302.68h1.4M530.8 299.69h1.4M530.91 300.84h1.4M533.37 300.71h1.4M531.84 297.51h1.4M535.75 296.85h1.4M534.05 295.79h1.4M535.53 295.69h1.4M536.22 297.58h1.4M537.81 294.43h1.4M341.57 408.25h1.4M342.88 402.88h1.4M345.28 406.36h1.4M345.29 409.45h1.4M347.59 406.19h1.4M348.07 406.15h1.4M348.65 405.98h1.4M350.3 404.14h1.4M350.87 404.41h1.4M350.7 401.91h1.4M352.68 398.83h1.4M353.87 399.14h1.4M355.44 398.24h1.4M356.31 400h1.4M356.96 403h1.4M357.27 403.39h1.4M358.84 398.88h1.4M360.08 399.58h1.4M360 395.07h1.4M362.26 393.36h1.4M362.73 393.28h1.4M362.04 395.85h1.4M362.84 397.43h1.4M364.62 395.72h1.4M366.99 392.44h1.4M367.27 393.97h1.4M368.54 394.7h1.4M369.54 394.46h1.4M370.61 395.71h1.4M370.28 391.17h1.4M372.59 389.25h1.4M372.01 393.08h1.4M374.39 391.66h1.4M372.91 391.26h1.4M374.21 389.8h1.4M377.36 389.48h1.4M377.23 387.14h1.4M377.82 386.85h1.4M380.37 384.18h1.4M380.64 385.31h1.4M380.53 384.9h1.4M382.84 386.06h1.4M384.14 382.96h1.4M382.98 384.13h1.4M386.13 382.4h1.4M385.11 383.26h1.4M386.64 377.96h1.4M387.18 378.73h1.4M390.23 379.97h1.4M389.65 383.65h1.4M390.97 379.77h1.4M393.43 376.32h1.4M391.84 375.31h1.4M393.94 375.14h1.4M396.21 374.9h1.4M395.65 375.15h1.4M396.31 376.21h1.4M396.5 378.25h1.4M398.75 375.42h1.4M399.29 370.8h1.4M401.16 372.84h1.4M400.3 374h1.4M404.01 371.69h1.4M403.13 372.28h1.4M404.14 372.31h1.4M405.57 371.22h1.4M406.46 372.11h1.4M407.01 368.61h1.4M409.45 366.87h1.4M409.95 367.99h1.4M411.13 366.62h1.4M412.53 365.32h1.4M410.84 368.49h1.4M412.72 362.81h1.4M415.44 359.55h1.4M414.1 364.62h1.4M414.76 364.58h1.4M416.8 362.36h1.4M417.43 363.9h1.4M419.89 361.11h1.4M419.8 358.51h1.4M422.5 359.63h1.4M422.54 360.9h1.4M422.59 356.61h1.4M424.52 357.22h1.4M424.21 356.27h1.4M426.88 353.69h1.4M427.75 355.13h1.4M427.86 354.39h1.4M429.95 352.36h1.4M428.73 352.06h1.4M430.14 351.89h1.4M431.33 352.15h1.4M434.11 350.22h1.4M433.04 351.97h1.4M435.98 349.85h1.4M435.38 349.27h1.4M435.33 350.44h1.4M437.16 348.02h1.4M439.92 347.7h1.4M440.72 346.42h1.4M440.27 346.38h1.4M442.26 348.13h1.4M441.79 345.78h1.4M443.24 343.66h1.4M444.49 345.94h1.4M444.58 347.67h1.4M445.82 343.49h1.4M446.56 344.77h1.4M448.59 343.23h1.4M447.73 340.86h1.4M451.14 342.07h1.4M452.46 341.38h1.4M451.34 341.45h1.4M453.18 339.66h1.4M454.79 339.83h1.4M455.93 340.19h1.4M454.74 340.47h1.4M458.37 335.46h1.4M458.3 337.77h1.4M458.53 339.74h1.4M461.19 336.34h1.4M460.46 337.62h1.4M462.71 335.72h1.4M463.89 333.53h1.4M463.8 336.25h1.4M465.92 333.75h1.4M464.51 334.23h1.4M466.35 332.32h1.4M467.59 330.51h1.4M468.8 332.74h1.4M469.23 332.49h1.4M471.57 330.61h1.4M472.36 329.01h1.4M472.97 329.58h1.4M474.2 331.65h1.4M475.62 328.26h1.4M476.1 326.37h1.4M477.49 328.13h1.4M476.14 328.22h1.4M478.61 328.25h1.4M478.53 324.46h1.4M481.2 323.02h1.4M480.46 324.07h1.4M480.88 323.18h1.4M483.65 319.95h1.4M483.64 322.66h1.4M485.67 319.31h1.4M485.48 320.15h1.4M485.45 322.21h1.4M487.26 321.9h1.4M487.56 323.13h1.4M490.85 319.43h1.4M489.44 319.86h1.4M490.98 320.08h1.4M493.21 319.35h1.4M493.99 317.16h1.4M493.87 317.64h1.4M496.77 317.67h1.4M497.65 316.97h1.4M498.52 316.2h1.4M497.17 318.27h1.4M498.24 316.56h1.4M500.97 315.25h1.4M501.23 316.8h1.4M502.55 315.53h1.4M504.62 314.03h1.4M505.99 311.37h1.4M504.89 316.38h1.4M507.9 310.82h1.4M506.22 311.39h1.4M508.19 312.16h1.4M509.16 313.33h1.4M509.78 310.68h1.4M510.57 308.9h1.4M511.26 309.87h1.4M512.99 311.21h1.4M513.21 310.07h1.4M514.4 310.04h1.4M516.28 309.69h1.4M517.83 311.88h1.4M519.43 305.89h1.4M519.69 307.78h1.4M518.62 307.43h1.4M522.07 305.75h1.4M522.6 306.52h1.4M522.44 306.88h1.4M522.81 309.13h1.4M524.22 309.49h1.4M524.38 305.51h1.4M528 302.51h1.4M528.68 303.82h1.4M527.48 303.78h1.4M528.6 303.14h1.4M532.17 303.72h1.4M532.89 301.74h1.4M533.58 303.21h1.4M532.4 300.89h1.4M534.55 299.66h1.4M534.59 300.79h1.4" stroke="#ff0000" stroke-width="1.4" fill="none"/>
<path d="M341.95 400.65L538.09 292.91" stroke="#0000ff" stroke-width="1.8" fill="none"/>
<path d="M341.95 403.16L538.09 291.19" stroke="#ff0000" stroke-width="2" fill="none"/>
<path d="M341.95 413.45v-2.8M341.95 269.05v2.8M412.25 413.45v-2.8M412.25 269.05v2.8M482.55 413.45v-2.8M482.55 269.05v2.8M338.1 408.85h2.8M544.4 408.85h-2.8M338.1 362.25h2.8M544.4 362.25h-2.8M338.1 315.65h2.8M544.4 315.65h-2.8" stroke="#111" stroke-width="1" fill="none"/>
<rect x="338.1" y="269.05" width="206.3" height="144.4" fill="none" stroke="#101010" stroke-width="1.45"/>
<text x="440.95" y="263.95" class="t">Isobaric Test 150 kPa</text>
<text transform="translate(341.95 430.35) scale(1 1.15)" class="k m">0</text>
<text transform="translate(412.25 430.35) scale(1 1.15)" class="k m">5</text>
<text transform="translate(482.55 430.35) scale(1 1.15)" class="k m">10</text>
<text transform="translate(333.9 413.95) scale(1 1.15)" class="k e">0</text>
<text transform="translate(333.9 367.35) scale(1 1.15)" class="k e">1</text>
<text transform="translate(333.9 320.75) scale(1 1.15)" class="k e">2</text>
<text transform="translate(333.9 274.15) scale(1 1.15)" class="k e">3</text>
<text x="441.85" y="446.65" class="l">Angular displacement [<tspan dx="1.6" dy="0.2">°</tspan><tspan dx="1.2" dy="-0.2">]</tspan></text>
<text transform="translate(321.9 341.25) rotate(-90)" class="l yl">Torque [Nm]</text>
<text x="436.4" y="471.75" class="c">(<tspan class="b">d</tspan>)</text>
</g>
<g>
<path d="M38.45 515.8V660.2M108.75 515.8V660.2M179.05 515.8V660.2M34.6 655.6H240.9M34.6 609H240.9M34.6 562.4H240.9" stroke="#dcdcdc" stroke-width="1" fill="none"/>
<path d="M49.69 654.6h1.4M51.76 653.8h1.4M53.05 654.11h1.4M57.36 650.86h1.4M64.57 646.5h1.4M71.28 642.93h1.4M72.25 640.27h1.4M72.86 637.97h1.4M73.37 635.95h1.4M74.32 632.95h1.4M85.19 633.83h1.4M91.16 626.26h1.4M92.85 618.99h1.4M94.21 615.59h1.4M95.33 614.14h1.4M108.17 607.84h1.4M102.2 609.51h1.4M104.03 608.2h1.4M106.9 606.85h1.4M108.33 605.72h1.4M112.48 603.21h1.4M114.4 603.06h1.4M111.68 604.19h1.4M117.29 601.29h1.4M118.76 599.56h1.4M117.71 599.01h1.4M117.57 599.62h1.4M121.84 595.17h1.4M125.97 594.82h1.4M125.26 593.63h1.4M124.97 594.94h1.4M129.29 591.67h1.4M130.82 591.77h1.4M130.65 591.41h1.4M133.71 588.25h1.4M135.16 587.88h1.4M136.15 587.4h1.4M139.87 585.12h1.4M139.07 586.32h1.4M142.17 583.29h1.4M145.94 580.07h1.4M143.84 583.55h1.4M148.48 580.61h1.4M149.97 579.11h1.4M152.34 577.98h1.4M154.49 573.95h1.4M153.58 575.22h1.4M153.34 574.78h1.4M158.22 572.29h1.4M157.01 575.15h1.4M163.32 570.07h1.4M161.44 571.26h1.4M162.38 571.4h1.4M163.87 571.02h1.4M166.32 568.05h1.4M167.25 567.74h1.4M169.1 566.47h1.4M171.45 566.07h1.4M174.02 564.32h1.4M175.49 562.38h1.4M179.91 560.88h1.4M179.04 561.02h1.4M178.96 560.22h1.4M180.78 558.9h1.4M186.78 556.16h1.4M185.42 558.24h1.4M186.83 556.47h1.4M190.35 555.45h1.4M192.97 553.57h1.4M193.08 551.97h1.4M195.61 552.18h1.4M195.28 554.11h1.4M197.22 553.81h1.4M199.08 552.01h1.4M202.01 549.07h1.4M204.08 548.37h1.4M203.78 549.19h1.4M208.09 547.05h1.4M208.83 548.13h1.4M208.7 546.3h1.4M210.72 546.42h1.4M211.22 544.62h1.4M216.25 542.24h1.4M213.76 544.99h1.4M217.98 542.22h1.4M218.95 541.82h1.4M221.55 541.89h1.4M225.38 540.69h1.4M223.84 541.58h1.4M225.83 541.23h1.4M226.83 540.7h1.4" stroke="#0000ff" stroke-width="1.4" fill="none"/>
<path d="M39.46 653.72h1.4M40.5 650.87h1.4M39.67 652.39h1.4M42.6 648.51h1.4M41.78 647.55h1.4M45.6 640.93h1.4M46.98 641.68h1.4M46.83 641.1h1.4M47.05 640.77h1.4M48.99 637.08h1.4M50.56 635.7h1.4M50.99 635.97h1.4M53.94 634.02h1.4M55.07 633.37h1.4M54.22 634.62h1.4M57.03 631.62h1.4M58.95 629.24h1.4M59.33 629.89h1.4M58.08 631.95h1.4M61.32 630.67h1.4M61.6 630.41h1.4M62.56 630.14h1.4M65.55 627.14h1.4M66.02 624.09h1.4M67.53 626.25h1.4M68.23 620.6h1.4M69.85 619.54h1.4M69.46 619.88h1.4M72.46 618.01h1.4M71.78 618.75h1.4M72.4 618.92h1.4M73.71 617.47h1.4M75.19 615.89h1.4M78.29 617.46h1.4M78.63 618.95h1.4M80.04 613.08h1.4M79.13 614.84h1.4M80.17 615.02h1.4M81.24 614.17h1.4M84.76 611.23h1.4M85.48 612.54h1.4M86.63 609.47h1.4M86.89 612.78h1.4M86.47 611.37h1.4M89.5 610.66h1.4M89.7 613.74h1.4M90.08 611.12h1.4M92.57 608.86h1.4M95.18 607.21h1.4M94.39 604.14h1.4M97.56 604.2h1.4M95.51 604.8h1.4M99.62 600.43h1.4M97.51 603.2h1.4M102.19 597.43h1.4M100.37 602.81h1.4M103.38 598.87h1.4M104.72 598.51h1.4M104.08 600.21h1.4M104.38 599.55h1.4M106.36 598.99h1.4M110.06 597.42h1.4M110.07 597.87h1.4M111 596.25h1.4M110.19 597.24h1.4M111.34 593.92h1.4M112.75 593.87h1.4M113.78 597.92h1.4M117.01 592.86h1.4M116.64 592.28h1.4M117.15 592.94h1.4M119.02 593.24h1.4M120.67 589.23h1.4M122.84 585.56h1.4M122.57 586.05h1.4M125.49 583.9h1.4M124.43 586.61h1.4M127.85 585.36h1.4M126.89 588.98h1.4M127.05 586.11h1.4M128.73 582.65h1.4M131.69 585.91h1.4M131.08 586.56h1.4M132.08 581.15h1.4M134.09 580.12h1.4M136.21 582.8h1.4M135.21 583.63h1.4M136.16 582.27h1.4M140.75 580.39h1.4M139.71 580.75h1.4M142.39 579.74h1.4M141.57 580.85h1.4M142.2 577.82h1.4M143.83 577.24h1.4M145.45 578h1.4M147.99 575.41h1.4M147.14 574.81h1.4M148.87 576.04h1.4M150.33 572.43h1.4M152.91 569.61h1.4M153.93 570.21h1.4M152.88 570.2h1.4M153.58 570.99h1.4M155.97 570.31h1.4M155.86 571.11h1.4M158.32 568.52h1.4M159.31 567.14h1.4M159.28 566.61h1.4M161.69 565.74h1.4M164.53 565.36h1.4M163.07 566.23h1.4M166.1 567.16h1.4M168.03 564.89h1.4M168.79 559.89h1.4M168.71 559.32h1.4M168.81 560.04h1.4M169.85 558.29h1.4M170.52 560.81h1.4M173.03 555.95h1.4M175.15 555.89h1.4M174.78 557.22h1.4M175.51 558.65h1.4M176.33 559.12h1.4M180.62 556.04h1.4M178.21 556.76h1.4M181.68 554.24h1.4M182.16 553.59h1.4M184.28 552.98h1.4M184.53 552.16h1.4M186.06 551.06h1.4M187.92 549.84h1.4M189.57 548.05h1.4M188.6 551.7h1.4M191.69 546.31h1.4M191.72 544.97h1.4M193.96 542.96h1.4M191.94 544.9h1.4M194.55 542.83h1.4M196.81 540.94h1.4M197.35 539.87h1.4M198.83 540.93h1.4M197.54 540.46h1.4M200.37 539.96h1.4M201.63 537.33h1.4M204.52 537.53h1.4M204.31 536.89h1.4M203.92 534.56h1.4M207.96 535.63h1.4M208.95 534.48h1.4M207.76 536.6h1.4M210.16 533.46h1.4M208.95 535.25h1.4M213.02 532.86h1.4M211.14 534.46h1.4M213.93 534.3h1.4M215.46 533.59h1.4M215.43 534.11h1.4M216.13 532.41h1.4M217.32 532.99h1.4M219.86 535.62h1.4M219.31 535.11h1.4M221.09 531.8h1.4M223.02 529.21h1.4M224 528.34h1.4M226.78 530.1h1.4M228.26 529.02h1.4M227.4 525.12h1.4M227.24 527.31h1.4M228.26 528.32h1.4M230.38 528.18h1.4M233.63 521.51h1.4M233.13 527.78h1.4M235.68 525.36h1.4M236.25 525.01h1.4M235.9 524.46h1.4M39.58 655.87h1.4M41.56 653.59h1.4M42.91 650.46h1.4M43.8 648.77h1.4M43.75 648.18h1.4M43.74 646.8h1.4M44.79 649.03h1.4M47.5 645.34h1.4M46.45 647.1h1.4M49 647.91h1.4M50.84 645.01h1.4M51.25 644.6h1.4M53.1 643.78h1.4M52.44 645.96h1.4M56.35 641.39h1.4M55.58 642.77h1.4M58.59 639.49h1.4M59.72 637.27h1.4M60.62 637.64h1.4M59.81 636.05h1.4M62.01 636.67h1.4M61.55 638.4h1.4M62.65 637.27h1.4M63.49 636.15h1.4M65.58 635.69h1.4M67.33 633.86h1.4M69.74 633.75h1.4M70.01 633.3h1.4M70.17 631.58h1.4M69.79 630.61h1.4M73.27 628.82h1.4M75.42 627.03h1.4M75.84 626.79h1.4M76.48 629.56h1.4M77.85 626.4h1.4M79.2 626.22h1.4M78.65 626.65h1.4M80.85 622.08h1.4M82.86 621.44h1.4M81.64 625.49h1.4M82.11 627.01h1.4M84.15 624.12h1.4M84.54 621.91h1.4M87.91 620.16h1.4M86.55 621.05h1.4M90.21 617.51h1.4M92.32 616.3h1.4M93.25 616.43h1.4M94.5 615h1.4M94.01 614.87h1.4M94.41 617.28h1.4M95.31 614.81h1.4M95.7 614.16h1.4M96.95 613.56h1.4M99.98 612.46h1.4M101.7 612.31h1.4M102.6 611.78h1.4M101.78 609.75h1.4M105.56 608.6h1.4M103.9 609.79h1.4M106.95 609.47h1.4M106.41 606.63h1.4M109.57 605.15h1.4M109.93 605.99h1.4M109.64 606.55h1.4M112.91 606.46h1.4M112.02 602.78h1.4M114.34 600.8h1.4M113.93 601.55h1.4M114.94 599.72h1.4M117.95 599.32h1.4M118.31 598.3h1.4M119.83 598.4h1.4M121.64 597.79h1.4M120.95 598.59h1.4M123.76 593.85h1.4M124.6 593.89h1.4M124.64 595.57h1.4M127.02 593.68h1.4M126.57 592.95h1.4M129.65 590.19h1.4M131.44 592.23h1.4M131.97 590.91h1.4M132.83 588.22h1.4M131.57 590.49h1.4M132.66 589.92h1.4M135.45 585.31h1.4M137.87 582.19h1.4M137.51 584.84h1.4M138.79 584.12h1.4M139.96 585.86h1.4M141.11 582.12h1.4M143.11 581.57h1.4M142.84 582.02h1.4M144.31 581.59h1.4M144.49 579.14h1.4M145.96 582.58h1.4M148.7 579.03h1.4M148.39 582.66h1.4M151.53 576.8h1.4M151.52 575.64h1.4M152.7 574.92h1.4M152.54 571.67h1.4M155.92 572.08h1.4M154.24 577.05h1.4M155.98 574.25h1.4M156.27 574.1h1.4M158.71 575.37h1.4M158.57 573.94h1.4M162.84 569.85h1.4M160.69 571.96h1.4M162.11 567.9h1.4M163.13 568.28h1.4M165.78 567.33h1.4M167.98 566.04h1.4M168.85 565.13h1.4M168.76 566.41h1.4M169.22 565.28h1.4M172.96 562.48h1.4M173.25 562.28h1.4M174.91 560.55h1.4M176.26 562.08h1.4M176.12 562.17h1.4M177.64 559h1.4M178.83 558.78h1.4M180.75 557.83h1.4M178.82 559.08h1.4M180.45 560.21h1.4M181.6 563.6h1.4M182.33 558.39h1.4M185.99 556.62h1.4M186.71 554.94h1.4M186.39 555.05h1.4M189.23 552.6h1.4M190.5 553.46h1.4M191.26 553.34h1.4M191.82 549.78h1.4M191.94 554.49h1.4M194.93 551.19h1.4M194.32 552.78h1.4M195.47 552.28h1.4M195.65 550h1.4M197.19 548.49h1.4M199.77 549.24h1.4M201.8 547.76h1.4M203.03 548.25h1.4M203.74 544.34h1.4M204.68 545.72h1.4M206.01 545.37h1.4M205.58 543.27h1.4M208.35 542.42h1.4M207.66 542.67h1.4M210.52 544.68h1.4M211.74 540.61h1.4M212.97 539.32h1.4M213.61 538.37h1.4M214.49 541.05h1.4M216.3 541.15h1.4M216.27 542.39h1.4M218.23 540.01h1.4M219.35 538.77h1.4M218.89 540.38h1.4M219.68 538.4h1.4M220 538.16h1.4M223.89 537.21h1.4M222.39 537.52h1.4M225.93 535.93h1.4M225.83 534.82h1.4M228.39 533.78h1.4M228.9 535.32h1.4M230.96 537.77h1.4M231.51 534.23h1.4M231.11 532.83h1.4M231.5 535.17h1.4M234.34 531.57h1.4" stroke="#ff0000" stroke-width="1.4" fill="none"/>
<path d="M38.45 647.91L236.7 522.32" stroke="#0000ff" stroke-width="1.8" fill="none"/>
<path d="M38.45 647.21L236.7 521.86" stroke="#ff0000" stroke-width="2" fill="none"/>
<path d="M38.45 660.2v-2.8M38.45 515.8v2.8M108.75 660.2v-2.8M108.75 515.8v2.8M179.05 660.2v-2.8M179.05 515.8v2.8M34.6 655.6h2.8M240.9 655.6h-2.8M34.6 609h2.8M240.9 609h-2.8M34.6 562.4h2.8M240.9 562.4h-2.8" stroke="#111" stroke-width="1" fill="none"/>
<rect x="34.6" y="515.8" width="206.3" height="144.4" fill="none" stroke="#101010" stroke-width="1.45"/>
<text x="137.45" y="510.7" class="t">Isobaric Test 200 kPa</text>
<text transform="translate(38.45 677.1) scale(1 1.15)" class="k m">0</text>
<text transform="translate(108.75 677.1) scale(1 1.15)" class="k m">5</text>
<text transform="translate(179.05 677.1) scale(1 1.15)" class="k m">10</text>
<text transform="translate(30.4 660.7) scale(1 1.15)" class="k e">0</text>
<text transform="translate(30.4 614.1) scale(1 1.15)" class="k e">1</text>
<text transform="translate(30.4 567.5) scale(1 1.15)" class="k e">2</text>
<text transform="translate(30.4 520.9) scale(1 1.15)" class="k e">3</text>
<text x="138.35" y="693.4" class="l">Angular displacement [<tspan dx="1.6" dy="0.2">°</tspan><tspan dx="1.2" dy="-0.2">]</tspan></text>
<text transform="translate(18.4 588) rotate(-90)" class="l yl">Torque [Nm]</text>
<text x="132.9" y="718.5" class="c">(<tspan class="b">e</tspan>)</text>
</g>
</svg>
</body>
</html>
